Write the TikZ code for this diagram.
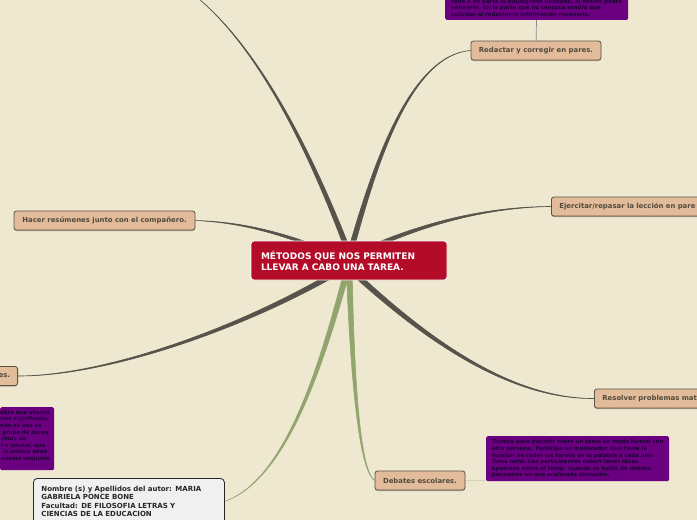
\documentclass[tikz,border=0pt]{standalone}
\usepackage{fontspec}
\setmainfont{DejaVu Sans}
\usepackage{xcolor}
\usetikzlibrary{positioning,calc,shadows}
\definecolor{paper}{HTML}{EFE8D0}
\definecolor{topicfill}{HTML}{E2BB9B}
\definecolor{topicline}{HTML}{5A5242}
\definecolor{notefill}{HTML}{6A0080}
\definecolor{notetext}{HTML}{22003A}
\definecolor{hubfill}{HTML}{B30B28}
\definecolor{branchgrey}{HTML}{55534A}
\definecolor{branchgreen}{HTML}{93A56F}
\pgfdeclarelayer{paperlayer}
\pgfdeclarelayer{branches}
\pgfsetlayers{paperlayer,branches,main}
\newcommand{\taper}[7]{\filldraw[#1, line width=0.6pt] ($(#2)+(#6,#7)$) .. controls ($(#3)+(#6*0.7,#7*0.7)$) and ($(#4)+(#6*0.2,#7*0.2)$) .. (#5) .. controls ($(#4)-(#6*0.2,#7*0.2)$) and ($(#3)-(#6*0.7,#7*0.7)$) .. ($(#2)-(#6,#7)$) -- cycle;}
\begin{document}
\begin{tikzpicture}[x=1pt, y=-1pt,
    map topic/.style={draw=topicline, line width=0.8pt, fill=topicfill, rounded corners=2.5pt, minimum height=19pt, inner ysep=0pt, inner xsep=7pt, text=topicline!90!black, font=\fontsize{6.9}{8}\selectfont\bfseries, drop shadow={shadow xshift=0pt, shadow yshift=-1pt, fill=topicline!70, opacity=0.7}},
    map note/.style={fill=notefill, rounded corners=1.5pt, inner xsep=3.7pt, inner ysep=0pt, align=left, text=notetext, font=\fontsize{5.4}{6.6}\selectfont\bfseries},
    map hub/.style={draw=white, line width=0.8pt, fill=hubfill, rounded corners=3pt, minimum width=196pt, minimum height=39pt, inner xsep=10pt, inner ysep=0pt, text=white, align=left, text width=176pt, font=\fontsize{9}{10.8}\selectfont\bfseries},
    map author/.style={draw=black!85, line width=0.8pt, fill=black!6, rounded corners=4pt, minimum width=191pt, minimum height=46pt, inner xsep=8pt, inner ysep=0pt, align=left, text width=175pt, text=black!85, font=\fontsize{7}{8.6}\selectfont\bfseries}]
    \useasboundingbox (0,0) rectangle (697,520);
    \begin{pgfonlayer}{paperlayer}
    \fill[paper] (0,0) rectangle (697,520);
    \end{pgfonlayer}

    \node[map hub] (hub) at (349,260.5) {MÉTODOS QUE NOS PERMITEN\\LLEVAR A CABO UNA TAREA.};

    \node[map topic, minimum width=130pt] (redactar) at (536,50.5) {Redactar y corregir en pares.};
    \node[map topic, minimum width=181pt] (resumenes) at (104.5,220.5) {Hacer resúmenes junto con el compañero.};
    \node[map topic, anchor=west, text width=170pt, align=left, inner xsep=8pt] (ejercitar) at (551,206.5) {Ejercitar/repasar la lección en pare};
    \node[map topic, anchor=west, text width=170pt, align=left, inner xsep=8pt] (resolver) at (594,398.5) {Resolver problemas mat};
    \node[map topic, minimum width=90pt] (debates) at (420,480.5) {Debates escolares.};
    \node[map topic, anchor=east, text width=30pt, align=right, inner xsep=7.5pt] (pares) at (18,376) {es.};

    \node[map note, anchor=south west, minimum width=183pt, minimum height=24pt] (notaredactar) at (445,20) {todo o en parte la bibliografía utilizada, al mismo podrá\\valorarla. En la parte que no conozca tendrá que\\solicitar al redactor la información necesaria.};
    \node[map note, anchor=north west, minimum width=183pt, minimum height=45pt] (notadebates) at (486,436) {Técnica para discutir sobre un tema de modo formal con\\otra persona. Participa un moderador, que tiene la\\función de ceder los turnos de la palabra a cada uno.\\Toma nota: Los participantes deben tener ideas\\opuestas sobre el tema. Cuando se habla de debate\\pensamos en una acalorada discusión.};
    \node[map note, anchor=north west, text width=54pt, inner xsep=0pt, minimum height=63pt] (notapares) at (0,407) {abra que abarca\\rios significado,\\ndo se usa es\\\hspace*{2pt}grupo de pares\\\hspace*{1pt}rmal, de\\\hspace*{1pt}l o similar, que\\\hspace*{3pt}la misma edad\\\hspace*{1pt}mismo conjunto\\\mbox{}};

    \node[map author, anchor=north west] (autor) at (33,478) {Nombre (s) y Apellidos del autor: MARIA\\GABRIELA PONCE BONE\\Facultad: DE FILOSOFIA LETRAS Y\\CIENCIAS DE LA EDUCACION};

    \coordinate (offtop) at (199,-1);
    \coordinate (rootA) at ($(hub.north)+(-4,2)$);
    \coordinate (rootB) at ($(hub.north)+(4,2)$);
    \coordinate (rootC) at ($(hub.center)+(11,-8)$);
    \coordinate (rootD) at ($(hub.center)+(-19,-8)$);
    \coordinate (rootE) at ($(hub.center)+(-4,7)$);
    \coordinate (rootF) at ($(hub.center)+(-4,4)$);
    \coordinate (rootG) at ($(hub.south)+(-4,-2)$);
    \coordinate (rootH) at ($(hub.south)+(0.5,-2)$);

    % ramas
    \begin{pgfonlayer}{branches}
    \taper{branchgrey}{rootA}{315,165}{265,55}{offtop}{2.6}{0}
    \taper{branchgrey}{rootB}{375,165}{410,55}{redactar.west}{2.6}{0}
    \taper{branchgrey}{rootC}{425,222}{490,207}{ejercitar.west}{0.8}{2}
    \taper{branchgrey}{rootD}{275,230}{235,222}{resumenes.east}{-0.6}{1.6}
    \taper{branchgrey}{rootE}{250,325}{110,376}{pares.east}{1.4}{2.2}
    \taper{branchgrey}{rootF}{425,340}{510,399}{resolver.west}{-1.6}{2.2}
    \taper{branchgreen}{rootG}{320,370}{285,480}{autor.east}{2.8}{0}
    \taper{branchgreen}{rootH}{352,360}{358,470}{debates.west}{2.8}{0}

    \draw[black!45, line width=0.7pt] (redactar) -- (notaredactar);
    \draw[branchgreen!45, line width=1pt] (debates) -- (debates -| notadebates.west);
    \end{pgfonlayer}

\end{tikzpicture}
\end{document}
